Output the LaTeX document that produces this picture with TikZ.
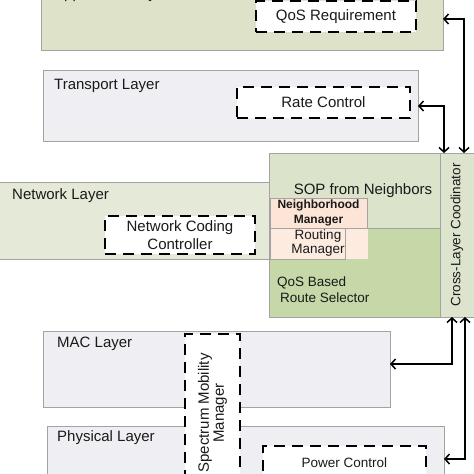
\documentclass[tikz,border=0pt]{standalone}
\usepackage{fontspec}
\setmainfont{Liberation Sans}
\usetikzlibrary{arrows.meta}
\definecolor{appc}{HTML}{DDE2C8}
\definecolor{transc}{HTML}{EEEEF3}
\definecolor{netc}{HTML}{E4EAD7}
\definecolor{sopc}{HTML}{DBE3CB}
\definecolor{qosc}{HTML}{C6D8A8}
\definecolor{clcc}{HTML}{DDE4CD}
\definecolor{nbrc}{HTML}{FCE4D6}
\definecolor{rtc}{HTML}{FDEBE0}
\definecolor{bordc}{HTML}{A3A3A3}
\definecolor{txtc}{HTML}{1A1A1A}
\tikzset{
  boxbase/.style={rectangle, inner sep=0pt, outer sep=0pt},
  layer/.style={boxbase, draw=bordc, line width=1pt},
  dbox/.style={boxbase, draw=black, fill=white, line width=2.2pt, dash pattern=on 11pt off 7pt},
  lbl/.style={inner sep=0pt, text=txtc, font=\fontsize{15}{18}\selectfont},
  slbl/.style={inner sep=0pt, text=txtc, font=\fontsize{13.5}{16}\selectfont},
  biarrow/.style={line width=1.5pt, {Straight Barb[length=4.5pt,width=10pt]}-{Straight Barb[length=4.5pt,width=10pt]}}
}
\begin{document}
\begin{tikzpicture}[x=1pt,y=-1pt]
\useasboundingbox (0,0) rectangle (474,474);
\clip (0,0) rectangle (474,474);
% Application layer
\node[layer, fill=appc, minimum width=402pt, minimum height=71pt] (app) at (242,14.5) {};
\node[lbl, anchor=base west] (applbl) at (54,-2) {Application Layer};
\node[dbox, minimum width=160pt, minimum height=31pt] (qosreq) at (336,16.5) {};
\node[lbl] (qosreqt) at (336,17) {QoS Requirement};
% Transport layer
\node[layer, fill=transc, minimum width=375pt, minimum height=71pt] (trans) at (230.5,105.5) {};
\node[lbl, anchor=base west] (translbl) at (54,89) {Transport Layer};
\node[dbox, minimum width=173pt, minimum height=31pt] (rate) at (323.5,102.5) {};
\node[lbl] (ratet) at (323.5,102.5) {Rate Control};
% Network layer
\node[layer, fill=netc, minimum width=274pt, minimum height=77pt] (net) at (132,220.5) {};
\node[lbl, anchor=base west] (netlbl) at (12,199) {Network Layer};
\node[dbox, minimum width=150pt, minimum height=38pt] (ncc) at (180,235) {};
\node[lbl, align=center] (ncct) at (180,235) {Network Coding\\Controller};
% Central block
\node[layer, fill=sopc, minimum width=171pt, minimum height=75pt] (sop) at (354.5,190.5) {};
\node[layer, fill=qosc, minimum width=171pt, minimum height=89pt] (qos) at (354.5,272.5) {};
\node[layer, fill=clcc, minimum width=34pt, minimum height=164pt] (clc) at (457,235) {};
\node[slbl, rotate=90] (clct) at (457,235) {Cross-Layer Coodinator};
\node[lbl] (sopt) at (363,191) {SOP from Neighbors};
\fill[rtc] (270,228) rectangle (368,259);
\node[layer, fill=rtc, minimum width=75pt, minimum height=31pt] (rt) at (307.5,243.5) {};
\node[slbl, align=center, font=\fontsize{13.5}{14}\selectfont] (rtt) at (318,243) {Routing\\Manager};
\node[layer, fill=nbrc, minimum width=97pt, minimum height=30pt] (nbr) at (318.5,213) {};
\node[inner sep=0pt, text=txtc, align=center, font=\bfseries\fontsize{12}{15}\selectfont] (nbrt) at (318.5,212.5) {Neighborhood\\Manager};
\node[slbl, anchor=base west] (qost1) at (277,286) {QoS Based};
\node[slbl, anchor=base west] (qost2) at (280,302) {Route Selector};
% MAC layer
\node[layer, fill=transc, minimum width=347pt, minimum height=76pt] (mac) at (216.5,369) {};
\node[lbl, anchor=base west] (maclbl) at (57,347) {MAC Layer};
% Physical layer
\node[layer, fill=transc, minimum width=397pt, minimum height=94pt] (phy) at (245.5,473) {};
\node[lbl, anchor=base west] (phylbl) at (57,441) {Physical Layer};
\node[dbox, minimum width=163pt, minimum height=74pt] (pc) at (344.5,483) {};
\node[slbl] (pct) at (344.5,463) {Power Control};
% Spectrum mobility manager
\node[dbox, minimum width=55pt, minimum height=186pt] (smm) at (212.5,427) {};
\node[lbl, rotate=90, align=center, font=\fontsize{15}{15}\selectfont] (smmt) at (212.5,413) {Spectrum Mobility\\Manager};
% Connectors
\draw[biarrow] (app.east |- 0,19) -| (464,0 |- clc.north);
\draw[biarrow] (trans.east |- 0,106) -| (444,0 |- clc.north);
\draw[biarrow] (452,0 |- clc.south) |- (mac.east |- 0,364);
\draw[biarrow] (465,0 |- clc.south) |- (phy.east |- 0,459);
\end{tikzpicture}
\end{document}
